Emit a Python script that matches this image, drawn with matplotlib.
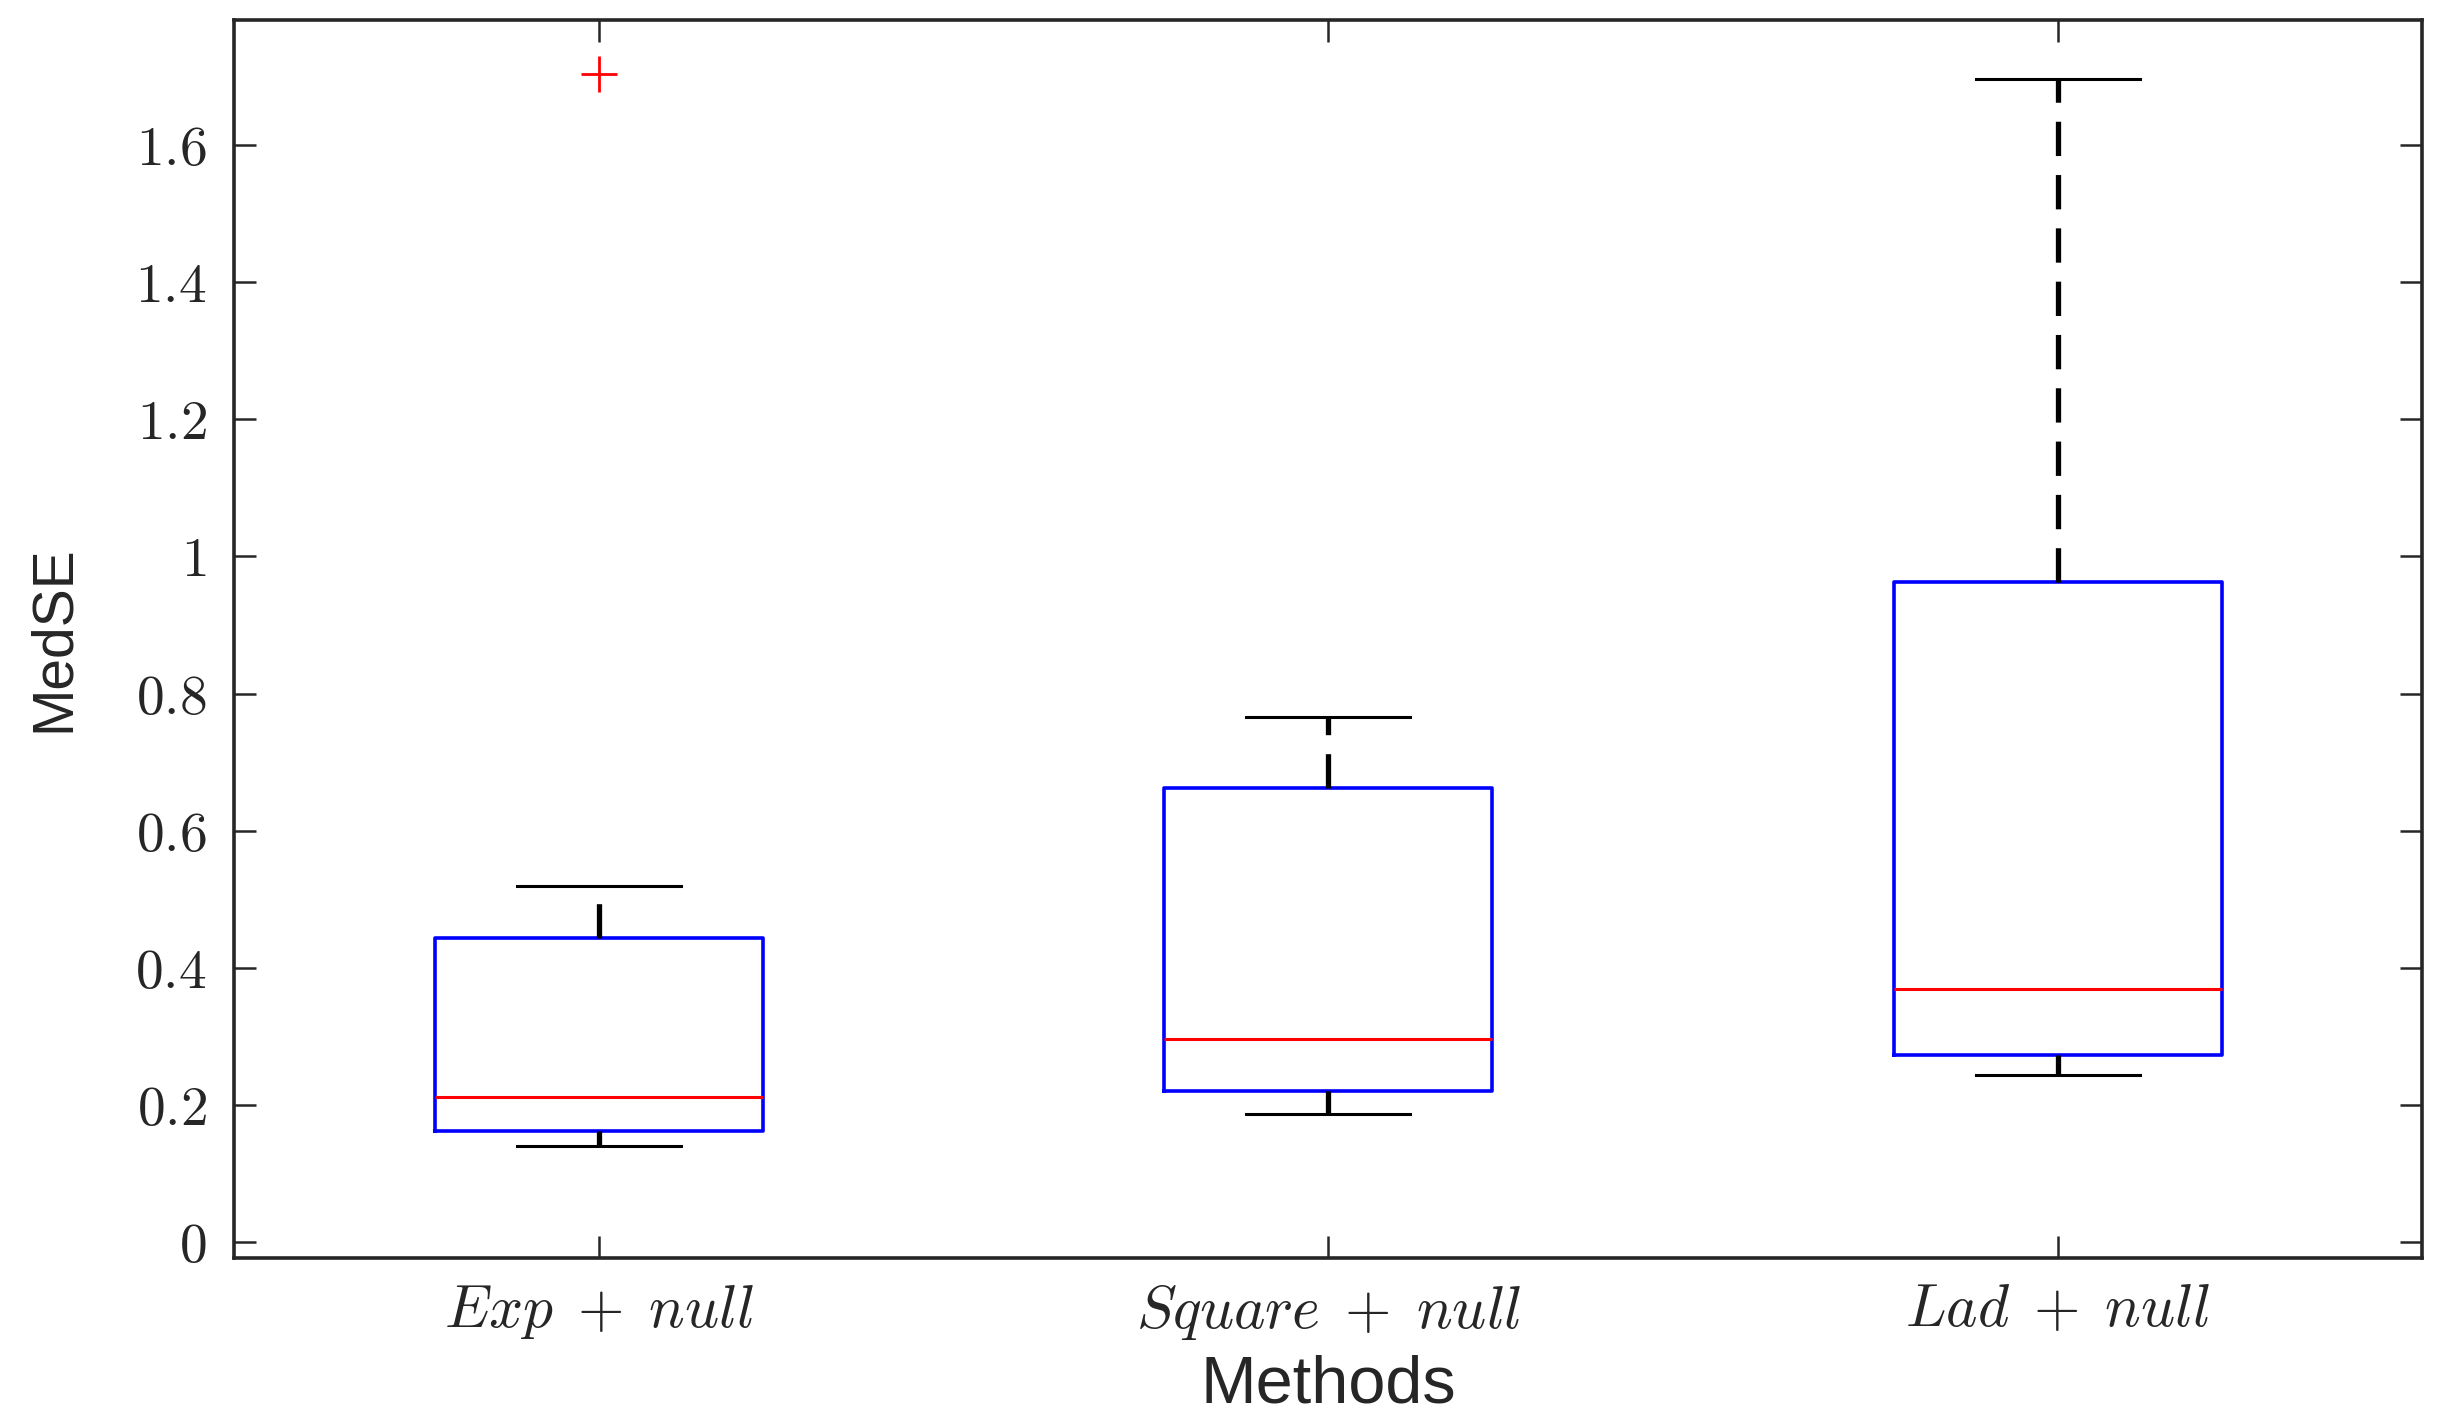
import matplotlib
matplotlib.use("Agg")
import matplotlib.pyplot as plt

# box statistics
methods = [r'$Exp\;+\;null$', r'$Square\;+\;null$', r'$Lad\;+\;null$']
whislo = [0.141, 0.187, 0.244]
q1 = [0.162, 0.221, 0.273]
med = [0.212, 0.296, 0.369]
q3 = [0.444, 0.663, 0.962]
whishi = [0.520, 0.766, 1.696]
fliers = [[1.703], [], []]

yticks = [0, 0.2, 0.4, 0.6, 0.8, 1, 1.2, 1.4, 1.6]
ytick_labels = ['0', '0.2', '0.4', '0.6', '0.8', '1', '1.2', '1.4', '1.6']

plt.rcParams['mathtext.fontset'] = 'cm'
plt.rcParams['font.family'] = ['Liberation Sans', 'DejaVu Sans']
axis_col = '#262626'

stats = []
for i in range(len(methods)):
  stats.append({'whislo': whislo[i], 'q1': q1[i], 'med': med[i], 'q3': q3[i],
                'whishi': whishi[i], 'fliers': fliers[i]})

fig = plt.figure(figsize=(12.25, 7.1), dpi=200)
ax = fig.add_axes([0.0957, 0.114, 0.893, 0.872])

ax.bxp(stats, positions=[1, 2, 3], widths=0.45, capwidths=0.225,
       boxprops=dict(color='blue', lw=1.3),
       medianprops=dict(color='red', lw=1.1),
       whiskerprops=dict(color='black', lw=1.9, dashes=(6.5, 3.6)),
       capprops=dict(color='black', lw=1.1),
       flierprops=dict(marker='+', markeredgecolor='red', markersize=13, markeredgewidth=1.0))

ax.set_xlim(0.5, 3.5)
ax.set_ylim(-0.023, 1.782)
ax.set_xticks([1, 2, 3])
ax.set_xticklabels(methods, fontsize=21.5, color=axis_col)
ax.set_yticks(yticks)
ax.set_yticklabels(['$' + s + '$' for s in ytick_labels], fontsize=20, color=axis_col)

ax.tick_params(direction='in', length=8, width=0.9, color=axis_col,
               top=True, right=True, pad=10)
ax.tick_params(axis='x', pad=9)
for s in ax.spines.values():
  s.set_linewidth(1.3)
  s.set_color(axis_col)

ax.set_xlabel('Methods', fontsize=24, color=axis_col)
ax.xaxis.set_label_coords(0.5, -0.078)
ax.set_ylabel('MedSE', fontsize=20.5, color=axis_col)
ax.yaxis.set_label_coords(-0.070, 0.5)

fig.savefig('out.png', dpi=200)
